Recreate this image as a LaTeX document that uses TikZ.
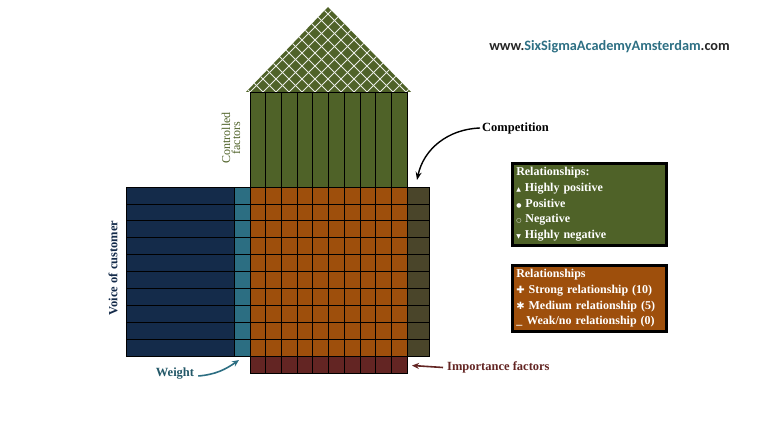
\documentclass[tikz,border=0pt]{standalone}
\usepackage{fontspec}
\setmainfont{Liberation Serif}
\newfontfamily\urlfont{Carlito}
\newfontfamily\symfont{DejaVu Sans}
\usetikzlibrary{arrows.meta}
\definecolor{cOlive}{HTML}{4F6228}
\definecolor{cNavy}{HTML}{142B4A}
\definecolor{cTeal}{HTML}{2C6E82}
\definecolor{cOrange}{HTML}{9E4F0C}
\definecolor{cComp}{HTML}{4A452A}
\definecolor{cRed}{HTML}{632523}
\definecolor{cUrl}{HTML}{2E7084}
\newcommand{\symb}[1]{{\symfont\fontsize{6}{6}\selectfont #1}}
\tikzset{
  cell/.style={draw=black, line width=0.8pt},
  lbl/.style={font=\fontsize{12.5}{14}\selectfont\bfseries, inner sep=0pt},
  legend/.style={draw=black, line width=2.5pt, text=white, align=left,
    text width=146pt, inner sep=4pt, anchor=north west,
    font=\fontsize{12}{15.8}\selectfont\bfseries},
}
\begin{document}
\begin{tikzpicture}[x=1pt,y=-1pt]
\useasboundingbox (0,0) rectangle (768,433);
\fill[white] (0,0) rectangle (768,433);

% roof
\begin{scope}
\clip (246,92) -- (328,7) -- (411,92) -- cycle;
\fill[cOlive] (240,0) rectangle (420,95);
\foreach \k in {-16,...,16} {
  \draw[white!88!cOlive, line width=0.8pt] (328+\k*13-120, 92+120) -- (328+\k*13+120, 92-120);
  \draw[white!88!cOlive, line width=0.8pt] (328+\k*13+120, 92+120) -- (328+\k*13-120, 92-120);
}
\end{scope}

% controlled factors columns
\foreach \i in {0,...,9}
  \filldraw[cell, fill=cOlive] (250+\i*15.7, 92) rectangle ++(15.7, 95);

% rows
\foreach \j in {0,...,9} {
  \filldraw[cell, fill=cNavy] (126, 187+\j*16.9) rectangle (234, 203.9+\j*16.9);
  \filldraw[cell, fill=cTeal] (234, 187+\j*16.9) rectangle (250, 203.9+\j*16.9);
  \filldraw[cell, fill=cComp] (407, 187+\j*16.9) rectangle (429, 203.9+\j*16.9);
  \foreach \i in {0,...,9}
    \filldraw[cell, fill=cOrange] (250+\i*15.7, 187+\j*16.9) rectangle ++(15.7, 16.9);
}
% importance row
\foreach \i in {0,...,9}
  \filldraw[cell, fill=cRed] (250+\i*15.7, 356) rectangle ++(15.7, 17);

% labels
\node[font=\urlfont\fontsize{14.3}{16}\selectfont\bfseries, inner sep=0pt] (url) at (609.5,47)
  {\textcolor{black!85}{www.}\textcolor{cUrl}{SixSigmaAcademyAmsterdam}\textcolor{black!85}{.com}};

\node[lbl, text=cNavy, rotate=90] (voc) at (113,268) {Voice of customer};

\node[rotate=90, text=cOlive, align=center, inner sep=0pt,
  font=\fontsize{12}{10}\selectfont] (ctrl) at (231,138) {Controlled\\factors};

\node[lbl, text=black, anchor=west] (comp) at (482,128) {Competition};
\coordinate (compTip) at (417,180);
\draw[line width=1.4pt, -{Stealth[length=8pt,width=6pt]}] (comp.west) ++(-2,0)
  to[out=182,in=78] (compTip);

\node[lbl, text=cTeal!80!black, anchor=center] (weight) at (175,374) {Weight};
\coordinate (weightTip) at (239,360);
\draw[cTeal, line width=1.6pt, -{Stealth[length=7pt,width=6pt]}] (weight.east) ++(4,2)
  to[out=5,in=215] (weightTip);

\node[lbl, text=cRed, anchor=west] (imp) at (447,367) {Importance factors};
\coordinate (impTip) at (412,365.5);
\draw[cRed, line width=1.6pt, -{Stealth[length=7pt,width=6pt]}] (imp.west) ++(-4,0.5) -- (impTip);

% legends
\node[legend, fill=cOlive] (rel1) at (511,162) {Relationships:\\
\symb{▲} Highly positive\\
\symb{●} Positive\\
\symb{○} Negative\\
\symb{▼} Highly negative};

\node[legend, fill=cOrange] (rel2) at (511,264) {Relationships\\
{\symfont\fontsize{10}{10}\selectfont ✚} Strong relationship (10)\\
{\symfont\fontsize{10}{10}\selectfont ✱} Medium relationship (5)\\
\_ Weak/no relationship (0)};
\end{tikzpicture}
\end{document}
